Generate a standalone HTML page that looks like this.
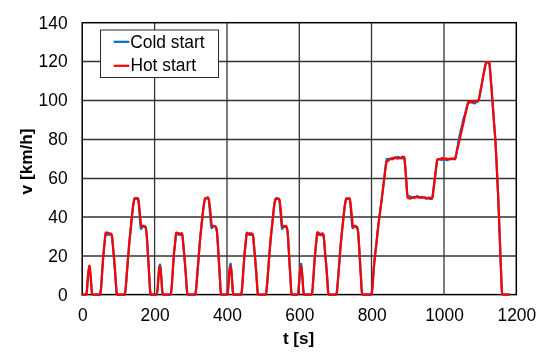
<!DOCTYPE html>
<html><head><meta charset="utf-8"><style>
html,body{margin:0;padding:0;background:#fff;}
body{width:550px;height:357px;overflow:hidden;}
svg{display:block;}
text{font-family:"Liberation Sans",Arial,sans-serif;font-size:17.4px;fill:#000;}
</style></head><body>
<svg width="550" height="357" viewBox="0 0 550 357">
<rect width="550" height="357" fill="#fff"/>
<g stroke="#333" stroke-width="1.3" fill="none">
<line x1="154.60" y1="22.7" x2="154.60" y2="294.6"/>
<line x1="227.00" y1="22.7" x2="227.00" y2="294.6"/>
<line x1="299.30" y1="22.7" x2="299.30" y2="294.6"/>
<line x1="371.50" y1="22.7" x2="371.50" y2="294.6"/>
<line x1="444.00" y1="22.7" x2="444.00" y2="294.6"/>
<line x1="82.25" y1="256.00" x2="516.35" y2="256.00"/>
<line x1="82.25" y1="217.00" x2="516.35" y2="217.00"/>
<line x1="82.25" y1="178.50" x2="516.35" y2="178.50"/>
<line x1="82.25" y1="139.50" x2="516.35" y2="139.50"/>
<line x1="82.25" y1="100.50" x2="516.35" y2="100.50"/>
<line x1="82.25" y1="61.50" x2="516.35" y2="61.50"/>
</g>
<rect x="82.2" y="22.7" width="434.1" height="271.9" fill="none" stroke="#000" stroke-width="1.5"/>
<g fill="none" stroke-linejoin="round" stroke-linecap="round">
<polyline stroke="#0070C0" stroke-width="2.2" points="82.2,294.6 82.6,294.6 83.0,294.6 83.3,294.6 83.7,294.6 84.1,294.6 84.4,294.6 84.8,294.6 85.1,294.6 85.5,294.6 85.9,294.5 86.2,294.1 86.6,292.7 87.0,289.8 87.3,285.3 87.7,279.5 88.0,274.8 88.4,271.9 88.8,270.5 89.1,269.6 89.5,269.6 89.8,271.0 90.2,273.5 90.6,276.4 90.9,280.0 91.3,285.3 91.7,290.4 92.0,293.5 92.4,294.5 92.7,294.6 93.1,294.6 93.5,294.6 93.8,294.6 94.2,294.6 94.5,294.6 94.9,294.6 95.3,294.6 95.6,294.6 96.0,294.6 96.4,294.6 96.7,294.6 97.1,294.6 97.4,294.6 97.8,294.6 98.2,294.6 98.5,294.6 98.9,294.6 99.3,294.6 99.6,294.6 100.0,294.5 100.3,293.7 100.7,291.5 101.1,287.9 101.4,283.1 101.8,277.9 102.1,272.6 102.5,267.2 102.9,261.6 103.2,256.6 103.6,252.6 104.0,249.0 104.3,245.4 104.7,241.8 105.0,238.1 105.4,234.6 105.8,232.5 106.1,232.8 106.5,233.9 106.8,234.5 107.2,234.7 107.6,234.8 107.9,234.8 108.3,234.7 108.7,234.6 109.0,234.7 109.4,234.6 109.7,234.4 110.1,234.5 110.5,234.7 110.8,235.0 111.2,234.9 111.6,234.8 111.9,235.5 112.3,238.2 112.6,242.3 113.0,246.4 113.4,250.5 113.7,254.6 114.1,259.0 114.4,263.5 114.8,268.1 115.2,273.1 115.5,278.4 115.9,283.8 116.3,288.9 116.6,292.9 117.0,294.4 117.3,294.6 117.7,294.6 118.1,294.6 118.4,294.6 118.8,294.6 119.1,294.6 119.5,294.6 119.9,294.6 120.2,294.6 120.6,294.6 121.0,294.6 121.3,294.6 121.7,294.6 122.0,294.6 122.4,294.6 122.8,294.6 123.1,294.6 123.5,294.6 123.9,294.6 124.2,294.6 124.6,294.5 124.9,293.7 125.3,291.5 125.7,288.2 126.0,284.4 126.4,279.6 126.7,274.6 127.1,269.7 127.5,264.9 127.8,260.4 128.2,256.1 128.6,252.0 128.9,247.6 129.3,243.3 129.6,239.4 130.0,235.7 130.4,232.1 130.7,228.7 131.1,225.4 131.4,221.9 131.8,218.1 132.2,214.2 132.5,210.6 132.9,207.5 133.3,204.9 133.6,202.7 134.0,200.6 134.3,199.0 134.7,198.5 135.1,198.8 135.4,199.0 135.8,199.0 136.2,198.8 136.5,198.6 136.9,198.5 137.2,198.5 137.6,198.4 138.0,198.5 138.3,199.7 138.7,203.2 139.0,207.9 139.4,212.6 139.8,217.2 140.1,222.0 140.5,226.2 140.9,228.5 141.2,228.9 141.6,228.2 141.9,227.5 142.3,226.9 142.7,226.7 143.0,226.7 143.4,226.7 143.7,226.7 144.1,226.7 144.5,226.5 144.8,226.4 145.2,226.4 145.6,227.0 145.9,228.8 146.3,231.1 146.6,234.1 147.0,238.8 147.4,244.5 147.7,250.5 148.1,256.6 148.5,262.9 148.8,269.2 149.2,275.4 149.5,281.7 149.9,287.9 150.3,292.5 150.6,294.3 151.0,294.6 151.3,294.6 151.7,294.6 152.1,294.6 152.4,294.6 152.8,294.6 153.2,294.6 153.5,294.6 153.9,294.6 154.2,294.6 154.6,294.6 155.0,294.6 155.3,294.6 155.7,294.6 156.0,294.6 156.4,294.5 156.8,294.1 157.1,292.7 157.5,289.8 157.9,285.3 158.2,280.9 158.6,275.6 158.9,270.9 159.3,267.3 159.7,265.2 160.0,264.6 160.4,266.2 160.7,269.9 161.1,274.7 161.5,279.8 161.8,285.2 162.2,290.4 162.6,293.5 162.9,294.5 163.3,294.6 163.6,294.6 164.0,294.6 164.4,294.6 164.7,294.6 165.1,294.6 165.5,294.6 165.8,294.6 166.2,294.6 166.5,294.6 166.9,294.6 167.3,294.6 167.6,294.6 168.0,294.6 168.3,294.6 168.7,294.6 169.1,294.6 169.4,294.6 169.8,294.6 170.2,294.6 170.5,294.5 170.9,293.7 171.2,291.5 171.6,287.9 172.0,283.4 172.3,278.1 172.7,272.5 173.0,266.9 173.4,261.3 173.8,256.1 174.1,251.9 174.5,248.5 174.9,245.3 175.2,241.8 175.6,238.2 175.9,234.7 176.3,232.8 176.7,233.1 177.0,234.0 177.4,234.2 177.8,234.0 178.1,234.2 178.5,234.6 178.8,234.8 179.2,234.8 179.6,234.6 179.9,234.7 180.3,234.8 180.6,234.9 181.0,234.8 181.4,234.8 181.7,234.9 182.1,235.0 182.5,235.9 182.8,238.7 183.2,242.8 183.5,247.2 183.9,251.5 184.3,255.6 184.6,259.5 185.0,263.6 185.3,268.2 185.7,273.2 186.1,278.4 186.4,283.9 186.8,288.9 187.2,292.9 187.5,294.4 187.9,294.6 188.2,294.6 188.6,294.6 189.0,294.6 189.3,294.6 189.7,294.6 190.1,294.6 190.4,294.6 190.8,294.6 191.1,294.6 191.5,294.6 191.9,294.6 192.2,294.6 192.6,294.6 192.9,294.6 193.3,294.6 193.7,294.6 194.0,294.6 194.4,294.6 194.8,294.6 195.1,294.5 195.5,293.7 195.8,291.5 196.2,288.2 196.6,283.9 196.9,279.4 197.3,274.9 197.6,270.4 198.0,265.8 198.4,261.2 198.7,256.4 199.1,251.5 199.5,246.6 199.8,242.1 200.2,238.2 200.5,234.6 200.9,231.0 201.3,227.7 201.6,224.5 202.0,221.1 202.4,217.6 202.7,213.9 203.1,210.4 203.4,207.3 203.8,204.8 204.2,202.6 204.5,200.5 204.9,199.0 205.2,198.5 205.6,198.5 206.0,198.5 206.3,198.2 206.7,197.8 207.1,197.8 207.4,198.3 207.8,198.7 208.1,198.9 208.5,199.0 208.9,200.2 209.2,203.4 209.6,207.8 209.9,212.3 210.3,216.7 210.7,221.2 211.0,225.1 211.4,227.4 211.8,228.1 212.1,228.0 212.5,227.4 212.8,226.7 213.2,226.4 213.6,226.3 213.9,226.2 214.3,226.0 214.7,226.0 215.0,226.3 215.4,226.7 215.7,227.2 216.1,227.9 216.5,229.1 216.8,230.8 217.2,233.9 217.5,238.9 217.9,244.6 218.3,250.3 218.6,256.4 219.0,262.6 219.4,268.8 219.7,274.9 220.1,281.2 220.4,287.9 220.8,292.5 221.2,294.3 221.5,294.6 221.9,294.6 222.2,294.6 222.6,294.6 223.0,294.6 223.3,294.6 223.7,294.6 224.1,294.6 224.4,294.6 224.8,294.6 225.1,294.6 225.5,294.6 225.9,294.6 226.2,294.6 226.6,294.6 226.9,294.5 227.3,294.1 227.7,292.7 228.0,289.8 228.4,285.3 228.8,279.9 229.1,274.7 229.5,270.3 229.8,266.8 230.2,264.4 230.6,263.7 230.9,265.3 231.3,269.0 231.7,273.6 232.0,278.5 232.4,285.2 232.7,290.4 233.1,293.5 233.5,294.5 233.8,294.6 234.2,294.6 234.5,294.6 234.9,294.6 235.3,294.6 235.6,294.6 236.0,294.6 236.4,294.6 236.7,294.6 237.1,294.6 237.4,294.6 237.8,294.6 238.2,294.6 238.5,294.6 238.9,294.6 239.2,294.6 239.6,294.6 240.0,294.6 240.3,294.6 240.7,294.6 241.1,294.5 241.4,293.7 241.8,291.5 242.1,287.9 242.5,282.6 242.9,277.2 243.2,272.0 243.6,266.7 244.0,261.2 244.3,256.2 244.7,252.2 245.0,248.7 245.4,244.9 245.8,241.1 246.1,237.6 246.5,234.5 246.8,232.6 247.2,232.8 247.6,233.7 247.9,234.1 248.3,234.2 248.7,234.4 249.0,234.6 249.4,234.9 249.7,234.9 250.1,234.9 250.5,234.9 250.8,235.0 251.2,235.0 251.5,234.8 251.9,234.7 252.3,234.9 252.6,235.3 253.0,236.2 253.4,238.7 253.7,242.5 254.1,246.6 254.4,250.8 254.8,254.9 255.2,259.2 255.5,263.4 255.9,267.8 256.3,272.7 256.6,278.1 257.0,283.7 257.3,288.9 257.7,292.9 258.1,294.4 258.4,294.6 258.8,294.6 259.1,294.6 259.5,294.6 259.9,294.6 260.2,294.6 260.6,294.6 261.0,294.6 261.3,294.6 261.7,294.6 262.0,294.6 262.4,294.6 262.8,294.6 263.1,294.6 263.5,294.6 263.8,294.6 264.2,294.6 264.6,294.6 264.9,294.6 265.3,294.6 265.7,294.5 266.0,293.7 266.4,291.5 266.7,288.2 267.1,284.2 267.5,279.7 267.8,275.0 268.2,270.2 268.6,265.4 268.9,260.4 269.3,255.7 269.6,251.4 270.0,247.1 270.4,242.7 270.7,238.7 271.1,235.2 271.4,231.8 271.8,228.1 272.2,224.4 272.5,221.0 272.9,217.8 273.3,214.3 273.6,210.7 274.0,207.2 274.3,204.4 274.7,202.2 275.1,200.4 275.4,199.1 275.8,198.7 276.1,198.4 276.5,198.0 276.9,197.9 277.2,198.2 277.6,198.5 278.0,198.7 278.3,198.8 278.7,198.7 279.0,198.7 279.4,200.1 279.8,203.6 280.1,208.1 280.5,212.6 280.9,217.0 281.2,221.7 281.6,225.8 281.9,228.2 282.3,228.8 282.7,228.3 283.0,227.3 283.4,226.4 283.7,226.4 284.1,226.8 284.5,226.8 284.8,226.5 285.2,226.3 285.6,226.6 285.9,226.9 286.3,227.1 286.6,227.5 287.0,228.6 287.4,230.3 287.7,233.3 288.1,238.3 288.4,244.4 288.8,250.8 289.2,257.3 289.5,263.4 289.9,269.2 290.3,275.0 290.6,281.3 291.0,287.9 291.3,292.5 291.7,294.3 292.1,294.6 292.4,294.6 292.8,294.6 293.2,294.6 293.5,294.6 293.9,294.6 294.2,294.6 294.6,294.6 295.0,294.6 295.3,294.6 295.7,294.6 296.0,294.6 296.4,294.6 296.8,294.6 297.1,294.6 297.5,294.5 297.9,294.1 298.2,292.7 298.6,289.8 298.9,285.3 299.3,280.6 299.7,275.7 300.0,270.9 300.4,266.7 300.7,264.0 301.1,263.8 301.5,265.9 301.8,269.8 302.2,274.2 302.6,279.1 302.9,285.2 303.3,290.4 303.6,293.5 304.0,294.5 304.4,294.6 304.7,294.6 305.1,294.6 305.4,294.6 305.8,294.6 306.2,294.6 306.5,294.6 306.9,294.6 307.3,294.6 307.6,294.6 308.0,294.6 308.3,294.6 308.7,294.6 309.1,294.6 309.4,294.6 309.8,294.6 310.2,294.6 310.5,294.6 310.9,294.6 311.2,294.6 311.6,294.5 312.0,293.7 312.3,291.5 312.7,287.9 313.0,282.9 313.4,277.5 313.8,272.1 314.1,266.7 314.5,261.3 314.9,256.3 315.2,252.3 315.6,248.8 315.9,245.4 316.3,241.9 316.7,238.2 317.0,234.7 317.4,232.8 317.7,233.2 318.1,234.4 318.5,234.8 318.8,234.8 319.2,234.7 319.6,234.8 319.9,234.9 320.3,235.0 320.6,235.1 321.0,235.1 321.4,234.9 321.7,234.8 322.1,235.0 322.5,235.1 322.8,234.9 323.2,234.5 323.5,235.1 323.9,238.0 324.3,242.4 324.6,247.0 325.0,251.3 325.3,255.4 325.7,259.2 326.1,263.1 326.4,267.5 326.8,272.6 327.2,278.0 327.5,283.3 327.9,288.9 328.2,292.9 328.6,294.4 329.0,294.6 329.3,294.6 329.7,294.6 330.0,294.6 330.4,294.6 330.8,294.6 331.1,294.6 331.5,294.6 331.9,294.6 332.2,294.6 332.6,294.6 332.9,294.6 333.3,294.6 333.7,294.6 334.0,294.6 334.4,294.6 334.8,294.6 335.1,294.6 335.5,294.6 335.8,294.6 336.2,294.5 336.6,293.7 336.9,291.5 337.3,288.2 337.6,284.0 338.0,279.4 338.4,274.7 338.7,270.0 339.1,265.3 339.5,260.4 339.8,255.7 340.2,251.2 340.5,246.9 340.9,242.6 341.3,238.6 341.6,234.8 342.0,231.2 342.3,227.6 342.7,224.1 343.1,221.0 343.4,217.8 343.8,214.3 344.2,210.6 344.5,207.2 344.9,204.6 345.2,202.5 345.6,200.5 346.0,198.9 346.3,198.3 346.7,198.4 347.1,198.4 347.4,198.4 347.8,198.5 348.1,198.6 348.5,198.5 348.9,198.5 349.2,198.5 349.6,198.7 349.9,200.1 350.3,203.6 350.7,208.2 351.0,212.9 351.4,217.3 351.8,221.7 352.1,225.7 352.5,227.8 352.8,228.2 353.2,227.9 353.6,227.5 353.9,226.8 354.3,226.4 354.6,226.3 355.0,226.4 355.4,226.3 355.7,226.4 356.1,226.5 356.5,226.6 356.8,226.5 357.2,227.1 357.5,228.4 357.9,230.3 358.3,233.4 358.6,238.6 359.0,244.7 359.4,251.0 359.7,257.3 360.1,263.3 360.4,269.3 360.8,275.3 361.2,281.3 361.5,287.9 361.9,292.5 362.2,294.3 362.6,294.6 363.0,294.6 363.3,294.6 363.7,294.6 364.1,294.6 364.4,294.6 364.8,294.6 365.1,294.6 365.5,294.6 365.9,294.6 366.2,294.6 366.6,294.6 366.9,294.6 367.3,294.6 367.7,294.6 368.0,294.6 368.4,294.6 368.8,294.6 369.1,294.6 369.5,294.6 369.8,294.6 370.2,294.6 370.6,294.6 370.9,294.6 371.3,294.5 371.6,293.7 372.0,291.5 372.4,288.0 372.7,283.6 373.1,278.3 373.5,273.1 373.8,268.2 374.2,263.8 374.5,260.3 374.9,257.1 375.3,253.7 375.6,250.1 376.0,246.8 376.4,243.8 376.7,240.8 377.1,237.4 377.4,233.9 377.8,230.2 378.2,226.8 378.5,223.9 378.9,221.2 379.2,218.4 379.6,215.6 380.0,212.8 380.3,209.9 380.7,206.8 381.1,204.1 381.4,201.5 381.8,198.8 382.1,195.5 382.5,192.4 382.9,189.5 383.2,186.7 383.6,183.7 383.9,180.6 384.3,177.5 384.7,174.2 385.0,170.8 385.4,167.6 385.8,164.6 386.1,162.0 386.5,160.1 386.8,159.1 387.2,158.9 387.6,159.1 387.9,159.3 388.3,159.3 388.7,159.1 389.0,158.8 389.4,158.7 389.7,158.8 390.1,158.9 390.5,159.0 390.8,159.0 391.2,158.8 391.5,158.6 391.9,158.4 392.3,158.1 392.6,157.9 393.0,157.9 393.4,158.1 393.7,158.3 394.1,158.3 394.4,158.0 394.8,157.7 395.2,157.7 395.5,157.7 395.9,157.5 396.2,157.3 396.6,157.2 397.0,157.1 397.3,156.9 397.7,156.8 398.1,157.1 398.4,157.4 398.8,157.3 399.1,157.2 399.5,157.3 399.9,157.7 400.2,158.0 400.6,158.0 401.0,157.8 401.3,157.9 401.7,158.2 402.0,158.5 402.4,158.3 402.8,158.0 403.1,157.6 403.5,157.4 403.8,157.4 404.2,157.9 404.6,159.6 404.9,163.4 405.3,168.0 405.7,172.5 406.0,177.2 406.4,182.2 406.7,187.3 407.1,192.3 407.5,195.9 407.8,197.0 408.2,196.7 408.5,196.6 408.9,196.6 409.3,196.5 409.6,196.5 410.0,196.4 410.4,196.4 410.7,196.7 411.1,197.4 411.4,197.8 411.8,197.8 412.2,197.7 412.5,197.7 412.9,197.6 413.3,197.4 413.6,197.3 414.0,197.2 414.3,197.2 414.7,197.2 415.1,197.2 415.4,197.2 415.8,197.1 416.1,197.1 416.5,196.9 416.9,196.3 417.2,195.9 417.6,196.3 418.0,197.0 418.3,197.4 418.7,197.2 419.0,197.1 419.4,197.1 419.8,197.1 420.1,197.0 420.5,197.0 420.8,197.1 421.2,197.4 421.6,197.6 421.9,197.6 422.3,197.4 422.7,197.3 423.0,197.5 423.4,197.7 423.7,197.8 424.1,197.6 424.5,197.4 424.8,197.3 425.2,197.4 425.6,197.8 425.9,198.1 426.3,198.3 426.6,198.3 427.0,198.4 427.4,198.4 427.7,198.4 428.1,198.4 428.4,198.5 428.8,198.5 429.2,198.5 429.5,198.7 429.9,199.0 430.3,199.1 430.6,199.0 431.0,198.8 431.3,198.8 431.7,198.8 432.1,198.6 432.4,197.7 432.8,195.4 433.1,192.5 433.5,189.6 433.9,186.8 434.2,183.8 434.6,180.7 435.0,177.6 435.3,174.9 435.7,172.3 436.0,169.6 436.4,166.6 436.8,163.5 437.1,160.9 437.5,159.9 437.9,159.8 438.2,159.8 438.6,159.6 438.9,159.4 439.3,159.2 439.7,159.2 440.0,159.1 440.4,159.1 440.7,159.5 441.1,159.9 441.5,160.0 441.8,159.8 442.2,159.5 442.6,159.5 442.9,159.6 443.3,159.6 443.6,159.5 444.0,159.3 444.4,159.3 444.7,159.5 445.1,159.7 445.4,159.6 445.8,159.4 446.2,159.4 446.5,159.7 446.9,160.1 447.3,160.2 447.6,160.1 448.0,159.8 448.3,159.5 448.7,159.3 449.1,159.5 449.4,159.5 449.8,159.4 450.1,159.2 450.5,159.1 450.9,159.0 451.2,159.0 451.6,159.0 452.0,159.2 452.3,159.2 452.7,159.0 453.0,158.7 453.4,158.6 453.8,158.6 454.1,158.8 454.5,159.1 454.9,159.2 455.2,158.5 455.6,157.1 455.9,155.4 456.3,153.6 456.7,151.6 457.0,149.8 457.4,148.1 457.7,146.2 458.1,144.0 458.5,141.8 458.8,139.9 459.2,137.9 459.6,136.1 459.9,134.4 460.3,132.8 460.6,131.1 461.0,129.3 461.4,127.8 461.7,126.4 462.1,125.0 462.4,123.4 462.8,121.7 463.2,120.1 463.5,118.8 463.9,117.6 464.3,116.5 464.6,115.4 465.0,114.3 465.3,112.8 465.7,111.2 466.1,109.7 466.4,108.2 466.8,106.8 467.2,105.5 467.5,104.4 467.9,103.3 468.2,102.5 468.6,102.3 469.0,102.3 469.3,102.3 469.7,102.3 470.0,102.3 470.4,102.2 470.8,102.1 471.1,102.1 471.5,102.2 471.9,102.4 472.2,102.5 472.6,102.7 472.9,102.9 473.3,103.1 473.7,103.2 474.0,103.2 474.4,103.3 474.7,103.4 475.1,103.3 475.5,102.8 475.8,102.3 476.2,102.0 476.6,101.8 476.9,101.7 477.3,101.8 477.6,101.7 478.0,101.4 478.4,100.8 478.7,99.9 479.1,98.5 479.5,96.7 479.8,94.8 480.2,93.0 480.5,91.0 480.9,89.0 481.3,87.0 481.6,85.1 482.0,83.1 482.3,81.1 482.7,79.1 483.1,77.0 483.4,74.9 483.8,73.1 484.2,71.3 484.5,69.3 484.9,67.4 485.2,65.6 485.6,64.0 486.0,62.8 486.3,62.3 486.7,62.3 487.0,62.0 487.4,62.2 487.8,62.4 488.1,62.5 488.5,62.3 488.9,62.2 489.2,62.7 489.6,64.6 489.9,68.3 490.3,72.9 490.7,77.6 491.0,82.2 491.4,86.7 491.8,91.5 492.1,96.4 492.5,101.3 492.8,106.1 493.2,111.1 493.6,116.2 493.9,121.0 494.3,125.7 494.6,130.3 495.0,135.0 495.4,140.3 495.7,146.8 496.1,153.8 496.5,161.0 496.8,168.3 497.2,175.7 497.5,183.1 497.9,190.5 498.3,198.3 498.6,207.3 499.0,216.8 499.3,226.5 499.7,236.5 500.1,246.4 500.4,256.0 500.8,265.5 501.2,275.2 501.5,284.5 501.9,291.5 502.2,294.2 502.6,294.6 503.0,294.6 503.3,294.6 503.7,294.6 504.1,294.6 504.4,294.6 504.8,294.6 505.1,294.6 505.5,294.6 505.9,294.6 506.2,294.6 506.6,294.6 506.9,294.6 507.3,294.6 507.7,294.6 508.0,294.6 508.4,294.6 508.8,294.6 509.1,294.6"/>
<polyline stroke="#FF0000" stroke-width="2.2" points="82.2,294.6 82.6,294.6 83.0,294.6 83.3,294.6 83.7,294.6 84.1,294.6 84.4,294.6 84.8,294.6 85.1,294.6 85.5,294.6 85.9,294.5 86.2,294.1 86.6,292.7 87.0,289.8 87.3,285.3 87.7,280.2 88.0,275.8 88.4,271.7 88.8,268.3 89.1,266.1 89.5,265.6 89.8,267.1 90.2,270.5 90.6,274.8 90.9,279.8 91.3,285.2 91.7,290.4 92.0,293.5 92.4,294.5 92.7,294.6 93.1,294.6 93.5,294.6 93.8,294.6 94.2,294.6 94.5,294.6 94.9,294.6 95.3,294.6 95.6,294.6 96.0,294.6 96.4,294.6 96.7,294.6 97.1,294.6 97.4,294.6 97.8,294.6 98.2,294.6 98.5,294.6 98.9,294.6 99.3,294.6 99.6,294.6 100.0,294.5 100.3,293.7 100.7,291.5 101.1,287.9 101.4,283.1 101.8,278.0 102.1,272.6 102.5,267.2 102.9,261.9 103.2,256.8 103.6,252.5 104.0,248.8 104.3,245.3 104.7,241.7 105.0,238.2 105.4,235.1 105.8,233.0 106.1,232.7 106.5,233.1 106.8,233.0 107.2,232.8 107.6,232.7 107.9,232.7 108.3,232.8 108.7,233.0 109.0,233.2 109.4,233.4 109.7,233.5 110.1,233.7 110.5,233.7 110.8,233.7 111.2,233.7 111.6,234.3 111.9,236.0 112.3,239.1 112.6,242.9 113.0,247.0 113.4,251.3 113.7,255.3 114.1,259.2 114.4,263.2 114.8,267.6 115.2,272.6 115.5,278.0 115.9,283.5 116.3,288.9 116.6,292.9 117.0,294.4 117.3,294.6 117.7,294.6 118.1,294.6 118.4,294.6 118.8,294.6 119.1,294.6 119.5,294.6 119.9,294.6 120.2,294.6 120.6,294.6 121.0,294.6 121.3,294.6 121.7,294.6 122.0,294.6 122.4,294.6 122.8,294.6 123.1,294.6 123.5,294.6 123.9,294.6 124.2,294.6 124.6,294.5 124.9,293.7 125.3,291.5 125.7,288.2 126.0,284.6 126.4,279.7 126.7,274.9 127.1,270.3 127.5,265.8 127.8,261.0 128.2,256.4 128.6,251.8 128.9,247.3 129.3,243.0 129.6,239.1 130.0,235.4 130.4,231.8 130.7,228.3 131.1,224.8 131.4,221.0 131.8,217.3 132.2,213.9 132.5,210.5 132.9,207.3 133.3,204.6 133.6,202.3 134.0,200.4 134.3,199.0 134.7,198.6 135.1,198.4 135.4,198.2 135.8,198.1 136.2,198.1 136.5,198.2 136.9,198.1 137.2,198.3 137.6,198.6 138.0,198.8 138.3,199.5 138.7,201.4 139.0,204.1 139.4,207.4 139.8,211.3 140.1,215.4 140.5,219.5 140.9,223.4 141.2,226.1 141.6,226.7 141.9,226.2 142.3,226.0 142.7,225.9 143.0,225.8 143.4,225.7 143.7,226.0 144.1,226.3 144.5,226.5 144.8,226.7 145.2,226.8 145.6,227.2 145.9,228.5 146.3,230.8 146.6,234.1 147.0,239.1 147.4,245.2 147.7,251.3 148.1,257.3 148.5,263.1 148.8,269.0 149.2,275.0 149.5,281.3 149.9,287.9 150.3,292.5 150.6,294.3 151.0,294.6 151.3,294.6 151.7,294.6 152.1,294.6 152.4,294.6 152.8,294.6 153.2,294.6 153.5,294.6 153.9,294.6 154.2,294.6 154.6,294.6 155.0,294.6 155.3,294.6 155.7,294.6 156.0,294.6 156.4,294.5 156.8,294.1 157.1,292.7 157.5,289.8 157.9,285.3 158.2,280.2 158.6,275.4 158.9,271.4 159.3,268.4 159.7,266.7 160.0,266.5 160.4,268.0 160.7,271.1 161.1,274.9 161.5,279.3 161.8,285.2 162.2,290.4 162.6,293.5 162.9,294.5 163.3,294.6 163.6,294.6 164.0,294.6 164.4,294.6 164.7,294.6 165.1,294.6 165.5,294.6 165.8,294.6 166.2,294.6 166.5,294.6 166.9,294.6 167.3,294.6 167.6,294.6 168.0,294.6 168.3,294.6 168.7,294.6 169.1,294.6 169.4,294.6 169.8,294.6 170.2,294.6 170.5,294.5 170.9,293.7 171.2,291.5 171.6,287.9 172.0,283.3 172.3,277.9 172.7,272.6 173.0,267.3 173.4,261.9 173.8,256.8 174.1,252.5 174.5,248.6 174.9,245.0 175.2,241.6 175.6,238.1 175.9,234.9 176.3,232.8 176.7,232.6 177.0,232.9 177.4,233.0 177.8,233.2 178.1,233.3 178.5,233.2 178.8,233.2 179.2,233.3 179.6,233.5 179.9,233.9 180.3,234.1 180.6,233.9 181.0,233.6 181.4,233.2 181.7,233.2 182.1,233.8 182.5,235.6 182.8,239.0 183.2,243.1 183.5,247.1 183.9,251.2 184.3,255.5 184.6,259.7 185.0,263.5 185.3,267.8 185.7,272.8 186.1,278.1 186.4,283.4 186.8,288.9 187.2,292.9 187.5,294.4 187.9,294.6 188.2,294.6 188.6,294.6 189.0,294.6 189.3,294.6 189.7,294.6 190.1,294.6 190.4,294.6 190.8,294.6 191.1,294.6 191.5,294.6 191.9,294.6 192.2,294.6 192.6,294.6 192.9,294.6 193.3,294.6 193.7,294.6 194.0,294.6 194.4,294.6 194.8,294.6 195.1,294.5 195.5,293.7 195.8,291.5 196.2,288.2 196.6,284.0 196.9,279.4 197.3,274.7 197.6,270.0 198.0,265.5 198.4,260.9 198.7,256.2 199.1,251.3 199.5,246.4 199.8,242.0 200.2,238.4 200.5,235.0 200.9,231.4 201.3,227.7 201.6,224.1 202.0,220.7 202.4,217.1 202.7,213.7 203.1,210.6 203.4,207.9 203.8,205.5 204.2,203.1 204.5,200.8 204.9,199.1 205.2,198.3 205.6,198.2 206.0,198.1 206.3,198.1 206.7,198.1 207.1,197.9 207.4,197.6 207.8,197.4 208.1,197.6 208.5,198.1 208.9,199.6 209.2,202.1 209.6,204.9 209.9,207.5 210.3,210.7 210.7,214.7 211.0,218.7 211.4,222.4 211.8,225.3 212.1,226.4 212.5,226.4 212.8,226.2 213.2,225.9 213.6,226.0 213.9,226.2 214.3,226.3 214.7,226.4 215.0,226.6 215.4,226.7 215.7,226.8 216.1,227.3 216.5,228.5 216.8,230.6 217.2,233.8 217.5,238.9 217.9,245.0 218.3,251.1 218.6,257.3 219.0,263.3 219.4,269.3 219.7,275.3 220.1,281.4 220.4,287.9 220.8,292.5 221.2,294.3 221.5,294.6 221.9,294.6 222.2,294.6 222.6,294.6 223.0,294.6 223.3,294.6 223.7,294.6 224.1,294.6 224.4,294.6 224.8,294.6 225.1,294.6 225.5,294.6 225.9,294.6 226.2,294.6 226.6,294.6 226.9,294.5 227.3,294.1 227.7,292.7 228.0,289.8 228.4,285.3 228.8,280.1 229.1,275.3 229.5,271.3 229.8,268.2 230.2,266.5 230.6,266.3 230.9,267.8 231.3,270.9 231.7,275.0 232.0,279.8 232.4,285.2 232.7,290.4 233.1,293.5 233.5,294.5 233.8,294.6 234.2,294.6 234.5,294.6 234.9,294.6 235.3,294.6 235.6,294.6 236.0,294.6 236.4,294.6 236.7,294.6 237.1,294.6 237.4,294.6 237.8,294.6 238.2,294.6 238.5,294.6 238.9,294.6 239.2,294.6 239.6,294.6 240.0,294.6 240.3,294.6 240.7,294.6 241.1,294.5 241.4,293.7 241.8,291.5 242.1,287.9 242.5,282.7 242.9,277.4 243.2,272.1 243.6,266.9 244.0,261.6 244.3,256.7 244.7,252.7 245.0,249.3 245.4,245.9 245.8,242.2 246.1,238.4 246.5,235.0 246.8,233.1 247.2,233.1 247.6,233.7 247.9,233.9 248.3,233.9 248.7,233.9 249.0,233.5 249.4,233.2 249.7,233.3 250.1,233.6 250.5,233.6 250.8,233.4 251.2,233.4 251.5,233.7 251.9,233.9 252.3,233.7 252.6,233.8 253.0,235.1 253.4,238.3 253.7,242.3 254.1,246.4 254.4,250.6 254.8,254.9 255.2,259.2 255.5,263.5 255.9,268.1 256.3,273.1 256.6,278.3 257.0,283.5 257.3,288.9 257.7,292.9 258.1,294.4 258.4,294.6 258.8,294.6 259.1,294.6 259.5,294.6 259.9,294.6 260.2,294.6 260.6,294.6 261.0,294.6 261.3,294.6 261.7,294.6 262.0,294.6 262.4,294.6 262.8,294.6 263.1,294.6 263.5,294.6 263.8,294.6 264.2,294.6 264.6,294.6 264.9,294.6 265.3,294.6 265.7,294.5 266.0,293.7 266.4,291.5 266.7,288.2 267.1,284.4 267.5,280.0 267.8,275.3 268.2,270.3 268.6,265.3 268.9,260.6 269.3,256.1 269.6,251.5 270.0,246.8 270.4,242.2 270.7,238.2 271.1,234.6 271.4,231.3 271.8,228.2 272.2,224.9 272.5,221.4 272.9,217.6 273.3,213.8 273.6,210.2 274.0,207.1 274.3,204.7 274.7,202.7 275.1,200.7 275.4,199.3 275.8,199.0 276.1,199.1 276.5,199.3 276.9,199.2 277.2,199.0 277.6,198.9 278.0,198.9 278.3,199.0 278.7,199.0 279.0,199.1 279.4,199.7 279.8,201.5 280.1,204.1 280.5,207.2 280.9,210.8 281.2,215.0 281.6,219.4 281.9,223.4 282.3,226.0 282.7,226.7 283.0,226.5 283.4,226.5 283.7,226.6 284.1,226.7 284.5,226.4 284.8,226.1 285.2,225.9 285.6,225.9 285.9,225.9 286.3,226.2 286.6,227.0 287.0,228.4 287.4,230.3 287.7,233.2 288.1,238.1 288.4,244.1 288.8,250.3 289.2,256.6 289.5,263.1 289.9,269.4 290.3,275.5 290.6,281.8 291.0,287.9 291.3,292.5 291.7,294.3 292.1,294.6 292.4,294.6 292.8,294.6 293.2,294.6 293.5,294.6 293.9,294.6 294.2,294.6 294.6,294.6 295.0,294.6 295.3,294.6 295.7,294.6 296.0,294.6 296.4,294.6 296.8,294.6 297.1,294.6 297.5,294.5 297.9,294.1 298.2,292.7 298.6,289.8 298.9,285.3 299.3,280.6 299.7,275.4 300.0,271.1 300.4,268.1 300.7,266.3 301.1,266.2 301.5,267.8 301.8,270.9 302.2,274.9 302.6,279.6 302.9,285.2 303.3,290.4 303.6,293.5 304.0,294.5 304.4,294.6 304.7,294.6 305.1,294.6 305.4,294.6 305.8,294.6 306.2,294.6 306.5,294.6 306.9,294.6 307.3,294.6 307.6,294.6 308.0,294.6 308.3,294.6 308.7,294.6 309.1,294.6 309.4,294.6 309.8,294.6 310.2,294.6 310.5,294.6 310.9,294.6 311.2,294.6 311.6,294.5 312.0,293.7 312.3,291.5 312.7,287.9 313.0,283.1 313.4,277.6 313.8,272.1 314.1,267.0 314.5,261.9 314.9,257.1 315.2,252.8 315.6,248.9 315.9,245.3 316.3,241.7 316.7,238.0 317.0,234.5 317.4,232.4 317.7,232.2 318.1,232.7 318.5,233.1 318.8,233.2 319.2,233.2 319.6,233.6 319.9,234.1 320.3,234.4 320.6,234.4 321.0,234.2 321.4,234.0 321.7,233.7 322.1,233.4 322.5,233.3 322.8,233.6 323.2,234.2 323.5,235.5 323.9,238.4 324.3,242.3 324.6,246.7 325.0,251.3 325.3,255.7 325.7,259.7 326.1,263.5 326.4,267.6 326.8,272.4 327.2,277.8 327.5,283.4 327.9,288.9 328.2,292.9 328.6,294.4 329.0,294.6 329.3,294.6 329.7,294.6 330.0,294.6 330.4,294.6 330.8,294.6 331.1,294.6 331.5,294.6 331.9,294.6 332.2,294.6 332.6,294.6 332.9,294.6 333.3,294.6 333.7,294.6 334.0,294.6 334.4,294.6 334.8,294.6 335.1,294.6 335.5,294.6 335.8,294.6 336.2,294.5 336.6,293.7 336.9,291.5 337.3,288.2 337.6,284.2 338.0,279.5 338.4,274.9 338.7,270.3 339.1,265.7 339.5,260.7 339.8,255.7 340.2,251.1 340.5,246.8 340.9,242.6 341.3,238.7 341.6,235.4 342.0,232.1 342.3,228.4 342.7,224.8 343.1,221.4 343.4,218.0 343.8,214.5 344.2,211.1 344.5,208.1 344.9,205.8 345.2,203.7 345.6,201.3 346.0,199.5 346.3,198.9 346.7,198.8 347.1,198.5 347.4,198.4 347.8,198.6 348.1,198.9 348.5,198.9 348.9,198.7 349.2,198.4 349.6,198.3 349.9,199.2 350.3,201.4 350.7,204.2 351.0,207.4 351.4,211.1 351.8,215.0 352.1,219.0 352.5,223.0 352.8,225.9 353.2,226.7 353.6,226.3 353.9,226.0 354.3,226.0 354.6,225.8 355.0,225.7 355.4,226.0 355.7,226.6 356.1,227.1 356.5,227.5 356.8,227.5 357.2,227.6 357.5,228.7 357.9,230.7 358.3,233.9 358.6,238.8 359.0,244.5 359.4,250.2 359.7,256.2 360.1,262.5 360.4,268.7 360.8,274.7 361.2,281.0 361.5,287.9 361.9,292.5 362.2,294.3 362.6,294.6 363.0,294.6 363.3,294.6 363.7,294.6 364.1,294.6 364.4,294.6 364.8,294.6 365.1,294.6 365.5,294.6 365.9,294.6 366.2,294.6 366.6,294.6 366.9,294.6 367.3,294.6 367.7,294.6 368.0,294.6 368.4,294.6 368.8,294.6 369.1,294.6 369.5,294.6 369.8,294.6 370.2,294.6 370.6,294.6 370.9,294.6 371.3,294.5 371.6,293.7 372.0,291.5 372.4,288.0 372.7,283.4 373.1,278.1 373.5,272.7 373.8,267.7 374.2,263.8 374.5,260.4 374.9,257.0 375.3,253.5 375.6,250.1 376.0,246.9 376.4,243.7 376.7,240.2 377.1,236.7 377.4,233.2 377.8,229.8 378.2,226.6 378.5,223.6 378.9,220.8 379.2,218.1 379.6,215.4 380.0,212.5 380.3,209.7 380.7,207.0 381.1,204.4 381.4,201.6 381.8,198.7 382.1,195.8 382.5,192.8 382.9,189.9 383.2,186.9 383.6,183.9 383.9,181.0 384.3,178.3 384.7,175.3 385.0,172.2 385.4,169.3 385.8,166.6 386.1,164.1 386.5,162.3 386.8,161.5 387.2,161.4 387.6,161.3 387.9,161.1 388.3,160.8 388.7,160.4 389.0,160.0 389.4,159.6 389.7,159.3 390.1,159.0 390.5,158.8 390.8,158.6 391.2,158.7 391.5,159.1 391.9,159.3 392.3,159.3 392.6,159.2 393.0,159.0 393.4,158.7 393.7,158.3 394.1,157.9 394.4,157.6 394.8,157.6 395.2,157.7 395.5,157.7 395.9,157.7 396.2,157.9 396.6,158.3 397.0,158.6 397.3,158.4 397.7,158.1 398.1,158.0 398.4,158.2 398.8,158.4 399.1,158.3 399.5,158.3 399.9,158.2 400.2,158.1 400.6,158.0 401.0,158.1 401.3,158.2 401.7,158.0 402.0,157.3 402.4,156.7 402.8,156.6 403.1,156.8 403.5,156.9 403.8,156.9 404.2,157.1 404.6,158.7 404.9,162.6 405.3,167.4 405.7,172.3 406.0,177.4 406.4,182.6 406.7,187.7 407.1,192.6 407.5,196.4 407.8,197.8 408.2,198.0 408.5,198.0 408.9,198.2 409.3,198.5 409.6,198.7 410.0,198.6 410.4,198.4 410.7,198.3 411.1,198.2 411.4,198.1 411.8,197.9 412.2,197.8 412.5,197.6 412.9,197.3 413.3,197.1 413.6,197.3 414.0,197.6 414.3,197.8 414.7,197.6 415.1,197.5 415.4,197.4 415.8,197.3 416.1,197.3 416.5,197.2 416.9,197.0 417.2,196.9 417.6,197.0 418.0,197.3 418.3,197.5 418.7,197.4 419.0,197.3 419.4,197.4 419.8,197.6 420.1,197.6 420.5,197.6 420.8,197.4 421.2,197.1 421.6,196.9 421.9,196.9 422.3,197.0 422.7,197.2 423.0,197.5 423.4,197.6 423.7,197.7 424.1,197.8 424.5,197.8 424.8,197.9 425.2,198.1 425.6,198.4 425.9,198.6 426.3,198.6 426.6,198.4 427.0,198.2 427.4,198.0 427.7,198.0 428.1,197.9 428.4,197.8 428.8,197.6 429.2,197.6 429.5,197.7 429.9,197.9 430.3,197.9 430.6,198.0 431.0,198.0 431.3,198.1 431.7,198.2 432.1,198.3 432.4,197.4 432.8,195.1 433.1,192.0 433.5,189.0 433.9,186.1 434.2,183.1 434.6,180.1 435.0,176.9 435.3,173.9 435.7,171.1 436.0,168.3 436.4,165.2 436.8,162.2 437.1,160.0 437.5,159.3 437.9,159.4 438.2,159.4 438.6,159.3 438.9,159.2 439.3,159.1 439.7,159.1 440.0,159.1 440.4,159.0 440.7,158.8 441.1,158.6 441.5,158.4 441.8,158.2 442.2,158.2 442.6,158.2 442.9,158.4 443.3,158.7 443.6,159.1 444.0,159.2 444.4,159.1 444.7,159.0 445.1,158.8 445.4,158.7 445.8,158.5 446.2,158.5 446.5,158.5 446.9,158.7 447.3,158.9 447.6,158.9 448.0,159.0 448.3,159.1 448.7,159.1 449.1,159.0 449.4,158.9 449.8,158.9 450.1,159.0 450.5,158.9 450.9,158.9 451.2,158.8 451.6,158.5 452.0,158.5 452.3,158.5 452.7,158.6 453.0,158.7 453.4,158.9 453.8,159.1 454.1,159.2 454.5,159.2 454.9,159.1 455.2,158.9 455.6,157.9 455.9,156.2 456.3,154.3 456.7,152.4 457.0,150.6 457.4,149.0 457.7,147.7 458.1,146.5 458.5,144.9 458.8,143.2 459.2,141.5 459.6,140.1 459.9,138.7 460.3,137.0 460.6,135.1 461.0,133.6 461.4,132.1 461.7,130.6 462.1,128.9 462.4,127.2 462.8,125.7 463.2,124.3 463.5,122.8 463.9,121.2 464.3,119.3 464.6,117.4 465.0,115.9 465.3,114.5 465.7,113.1 466.1,111.5 466.4,109.8 466.8,108.2 467.2,106.4 467.5,104.7 467.9,103.1 468.2,102.1 468.6,101.9 469.0,102.0 469.3,102.0 469.7,102.2 470.0,102.4 470.4,102.4 470.8,102.2 471.1,101.7 471.5,101.2 471.9,101.2 472.2,101.4 472.6,101.6 472.9,101.8 473.3,101.9 473.7,102.0 474.0,102.1 474.4,101.8 474.7,101.4 475.1,101.3 475.5,101.4 475.8,101.5 476.2,101.3 476.6,101.1 476.9,100.9 477.3,100.7 477.6,100.6 478.0,100.7 478.4,100.6 478.7,99.7 479.1,97.9 479.5,96.0 479.8,94.2 480.2,92.4 480.5,90.6 480.9,88.7 481.3,86.9 481.6,85.0 482.0,82.9 482.3,80.9 482.7,79.0 483.1,76.8 483.4,74.9 483.8,73.2 484.2,71.2 484.5,69.0 484.9,67.2 485.2,65.8 485.6,64.4 486.0,63.2 486.3,62.7 486.7,62.5 487.0,62.3 487.4,62.2 487.8,62.4 488.1,62.5 488.5,62.3 488.9,62.2 489.2,62.7 489.6,64.6 489.9,68.3 490.3,72.9 490.7,77.6 491.0,82.2 491.4,86.7 491.8,91.5 492.1,96.4 492.5,101.3 492.8,106.1 493.2,111.1 493.6,116.2 493.9,121.0 494.3,125.7 494.6,130.3 495.0,135.0 495.4,140.3 495.7,146.8 496.1,153.8 496.5,161.0 496.8,168.3 497.2,175.7 497.5,183.1 497.9,190.5 498.3,198.3 498.6,207.3 499.0,216.8 499.3,226.5 499.7,236.5 500.1,246.4 500.4,256.0 500.8,265.5 501.2,275.2 501.5,284.5 501.9,291.5 502.2,294.2 502.6,294.6 503.0,294.6 503.3,294.6 503.7,294.6 504.1,294.6 504.4,294.6 504.8,294.6 505.1,294.6 505.5,294.6 505.9,294.6 506.2,294.6 506.6,294.6 506.9,294.6 507.3,294.6 507.7,294.6 508.0,294.6 508.4,294.6 508.8,294.6 509.1,294.6"/>
</g>
<g>
<text transform="translate(67.60,300.50) scale(1,1.045)" text-anchor="end">0</text>
<text transform="translate(67.60,261.66) scale(1,1.045)" text-anchor="end">20</text>
<text transform="translate(67.60,222.81) scale(1,1.045)" text-anchor="end">40</text>
<text transform="translate(67.60,183.97) scale(1,1.045)" text-anchor="end">60</text>
<text transform="translate(67.60,145.13) scale(1,1.045)" text-anchor="end">80</text>
<text transform="translate(67.60,106.29) scale(1,1.045)" text-anchor="end">100</text>
<text transform="translate(67.60,67.44) scale(1,1.045)" text-anchor="end">120</text>
<text transform="translate(67.60,28.60) scale(1,1.045)" text-anchor="end">140</text>
<text transform="translate(82.75,321.00) scale(1,1.045)" text-anchor="middle">0</text>
<text transform="translate(155.10,321.00) scale(1,1.045)" text-anchor="middle">200</text>
<text transform="translate(227.45,321.00) scale(1,1.045)" text-anchor="middle">400</text>
<text transform="translate(299.80,321.00) scale(1,1.045)" text-anchor="middle">600</text>
<text transform="translate(372.15,321.00) scale(1,1.045)" text-anchor="middle">800</text>
<text transform="translate(444.50,321.00) scale(1,1.045)" text-anchor="middle">1000</text>
<text transform="translate(516.85,321.00) scale(1,1.045)" text-anchor="middle">1200</text>
</g>
<text transform="translate(298.60,343.70) scale(0.985,0.985)" text-anchor="middle" font-weight="bold">t [s]</text>
<text transform="translate(32.30,161.40) rotate(-90) scale(0.99,0.995)" text-anchor="middle" font-weight="bold">v [km/h]</text>
<rect x="100.5" y="30" width="118" height="47.5" fill="#fff" stroke="#2a2a2a" stroke-width="1"/>
<line x1="113.7" y1="41.8" x2="129.3" y2="41.8" stroke="#0070C0" stroke-width="2.2"/>
<line x1="113.7" y1="65.8" x2="129.3" y2="65.8" stroke="#FF0000" stroke-width="2.2"/>
<text transform="translate(130.20,47.50) scale(1,1.045)">Cold start</text>
<text transform="translate(130.40,71.40) scale(1,1.045)">Hot start</text>
</svg>
</body></html>
